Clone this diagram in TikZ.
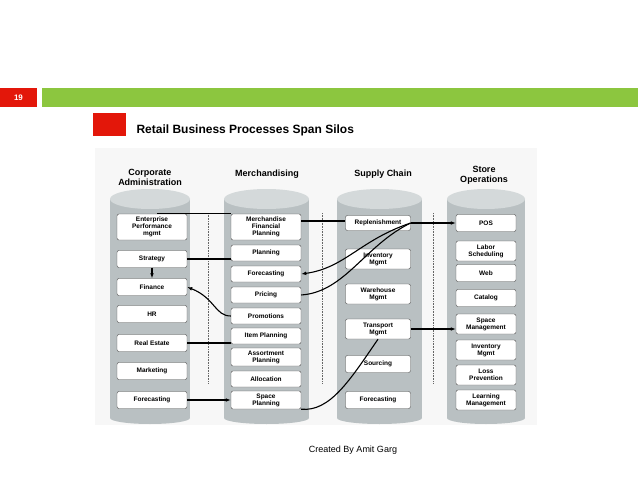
\documentclass[tikz,border=0pt]{standalone}
\usepackage{fontspec}
\setmainfont{Liberation Sans}
\usetikzlibrary{arrows.meta}
\definecolor{slgreen}{HTML}{8CC63F}
\definecolor{slred}{HTML}{E3170A}
\definecolor{cyl}{HTML}{B9C0C2}
\definecolor{cyltop}{HTML}{D4D9DA}
\begin{document}
\begin{tikzpicture}[x=1pt,y=-1pt,
  box/.style={draw=black!70,fill=white,rounded corners=2pt,align=center,
    font=\bfseries\fontsize{6.5}{7}\selectfont,inner sep=1pt},
  cw/.style={box,minimum width=70pt},
  mw/.style={box,minimum width=70pt},
  sw/.style={box,minimum width=65pt},
  ow/.style={box,minimum width=60pt},
  hd/.style={font=\bfseries\fontsize{9}{10}\selectfont,align=center},
  link/.style={line width=1.1pt},
  arr/.style={line width=1.1pt,-{Latex[length=5pt]}},
  dots/.style={densely dotted,line width=0.6pt,black!60}]
\useasboundingbox (0,0) rectangle (638,479);
% slide furniture
\fill[slred] (0,88) rectangle (37,107);
\node[text=white,font=\bfseries\fontsize{8}{8}\selectfont] (num) at (18.5,97.5) {19};
\fill[slgreen] (42,88) rectangle (638,107);
\fill[black!3] (95,148) rectangle (537,425);
\fill[slred] (93,113) rectangle (126,136);
\node[anchor=west,font=\bfseries\fontsize{12}{12}\selectfont] (title) at (133,130) {Retail Business Processes Span Silos};
% cylinders
\foreach \xa/\xb in {110/190,224/309,337/422,447/525}{
  \fill[cyl] (\xa,199) rectangle (\xb,418);
  \fill[cyl] ({(\xa+\xb)/2},418) ellipse ({(\xb-\xa)/2} and 6);
  \fill[cyltop] ({(\xa+\xb)/2},199) ellipse ({(\xb-\xa)/2} and 10);
}
% separators
\draw[dots] (208,213) -- (208,383);
\draw[dots] (322,213) -- (322,383);
\draw[dots] (433,213) -- (433,383);
% headers
\node[hd] (h1) at (150,177) {Corporate\\Administration};
\node[hd] (h2) at (267,174) {Merchandising};
\node[hd] (h3) at (383,174) {Supply Chain};
\node[hd] (h4) at (484,175) {Store\\Operations};
% corporate
\node[cw,minimum height=26pt] (epm) at (152,227) {Enterprise\\Performance\\mgmt};
\node[cw,minimum height=17pt] (str) at (152,259) {Strategy};
\node[cw,minimum height=17pt] (fin) at (152,287) {Finance};
\node[cw,minimum height=17pt] (hr) at (152,314) {HR};
\node[cw,minimum height=17pt] (re) at (152,343) {Real Estate};
\node[cw,minimum height=17pt] (mkt) at (152,371) {Marketing};
\node[cw,minimum height=17pt] (cfc) at (152,400) {Forecasting};
% merchandising
\node[mw,minimum height=26pt] (mfp) at (266,227) {Merchandise\\Financial\\Planning};
\node[mw,minimum height=16pt] (pln) at (266,253) {Planning};
\node[mw,minimum height=16pt] (mfc) at (266,274) {Forecasting};
\node[mw,minimum height=16pt] (prc) at (266,295) {Pricing};
\node[mw,minimum height=16pt] (pro) at (266,316) {Promotions};
\node[mw,minimum height=16pt] (itp) at (266,336) {Item Planning};
\node[mw,minimum height=18pt] (asp) at (266,357) {Assortment\\Planning};
\node[mw,minimum height=16pt] (alc) at (266,379) {Allocation};
\node[mw,minimum height=18pt] (spp) at (266,400) {Space\\Planning};
% supply chain
\node[sw,minimum height=15pt] (rep) at (378,223) {Replenishment};
\node[sw,minimum height=20pt] (inv) at (378,259) {Inventory\\Mgmt};
\node[sw,minimum height=20pt] (wh) at (378,294) {Warehouse\\Mgmt};
\node[sw,minimum height=20pt] (tr) at (378,329) {Transport\\Mgmt};
\node[sw,minimum height=17pt] (src) at (378,364) {Sourcing};
\node[sw,minimum height=17pt] (sfc) at (378,400) {Forecasting};
% store operations
\node[ow,minimum height=17pt] (pos) at (486,223) {POS};
\node[ow,minimum height=20pt] (lab) at (486,251) {Labor\\Scheduling};
\node[ow,minimum height=17pt] (web) at (486,273) {Web};
\node[ow,minimum height=17pt] (cat) at (486,298) {Catalog};
\node[ow,minimum height=20pt] (spm) at (486,324) {Space\\Management};
\node[ow,minimum height=20pt] (oim) at (486,350) {Inventory\\Mgmt};
\node[ow,minimum height=20pt] (lp) at (486,375) {Loss\\Prevention};
\node[ow,minimum height=20pt] (lm) at (486,400) {Learning\\Management};
% connectors
\draw[link] (epm.north) ++(5,0) coordinate (e1) (e1) -- (e1 -| mfp.west);
\draw[link] (mfp.east) ++(0,-6) coordinate (m1) (m1) -- (m1 -| rep.west);
\draw[arr] (rep.east) -- (pos.west);
\draw[link] (str.east) -- (str.east -| pln.west);
\draw[arr] (str.south) -- (fin.north);
\draw[arr] (rep.east) .. controls (360,240) and (345,268) .. (mfc.east);
\draw[link] (rep.east) .. controls (365,245) and (345,292) .. (prc.east);
\draw[arr] (pro.west) .. controls (215,316) and (215,298) .. (fin.east);
\draw[link] (re.east) -- (re.east -| asp.west);
\draw[arr] (cfc.east) -- (spp.west);
\draw[link] (spp.south east) .. controls (330,412) and (350,380) .. (tr.south);
\draw[arr] (tr.east) -- (tr.east -| spm.west);
% footer
\node[font=\fontsize{9}{9}\selectfont] (foot) at (353,450) {Created By Amit Garg};
\end{tikzpicture}
\end{document}
